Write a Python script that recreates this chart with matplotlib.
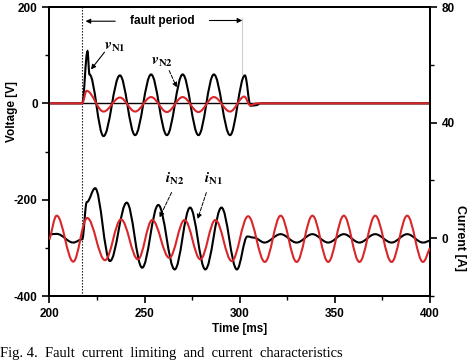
import numpy as np
import matplotlib
matplotlib.use("Agg")
import matplotlib.pyplot as plt
from matplotlib.path import Path
from matplotlib.patches import PathPatch
from matplotlib.ticker import MultipleLocator, FixedLocator

plt.rcParams['font.family'] = ['Liberation Sans', 'DejaVu Sans']
plt.rcParams['font.weight'] = 'bold'
plt.rcParams['mathtext.fontset'] = 'stix'
plt.rcParams['axes.unicode_minus'] = False

# --- data: extrema / key points of each trace ---
# voltage v_N1 (black, left axis) [ms], [V]
t_vN1 = [200, 217.2, 220.0, 221.0, 228.4, 237.0, 245.0, 253.4, 261.7, 270.0,
         278.3, 286.4, 294.9, 302.7, 305.7, 308.5, 311.0, 400]
v_vN1 = [0, 0, 108, 60, -68, 58, -66, 60, -66, 60,
         -66, 60, -66, 58, -5, -4, 0, 0]

# voltage v_N2 (red, left axis)
t_vN2 = [200, 217.2, 219.5, 228.4, 237.0, 245.0, 253.4, 261.7, 270.0, 278.3,
         286.4, 294.9, 302.4, 305.5, 309.0, 400]
v_vN2 = [0, 0, 26, -17, 12, -17, 13, -18, 13, -18,
         13, -17, 14, -4, 0, 0]

# current i_N1 (black, right axis) [ms], [A]
t_iN1 = [200, 203.8, 212.5, 217.2, 219.6, 224.0, 231.8, 240.6, 248.7, 257.2,
         265.8, 273.9, 281.9, 290.4, 298.5, 304.0, 307.5, 313.0, 321.5, 329.9,
         338.2, 346.5, 354.7, 362.9, 371.2, 379.8, 388.0, 396.3, 400]
i_iN1 = [1.3, 1.5, -1.5, -0.4, 12.5, 17.3, -7.9, 12.3, -10.2, 11.5,
         -10.8, 10.6, -10.8, 10.6, -10.8, 0.6, 0.2, -1.5, 1.4, -1.5,
         1.4, -1.5, 1.4, -1.5, 1.4, -1.5, 1.4, -1.5, -0.8]

# current i_N2 (red, right axis)
t_iN2 = [200, 203.8, 212.5, 219.8, 229.2, 237.6, 246.5, 254.0, 263.0, 271.0,
         279.3, 287.2, 295.8, 304.4, 313.2, 321.5, 329.9, 338.2, 346.5, 354.7,
         362.9, 371.2, 379.8, 388.0, 396.3, 400]
i_iN2 = [-0.5, 7.8, -8.1, 7.0, -7.6, 6.5, -7.3, 6.3, -6.8, 6.3,
         -7.3, 6.3, -7.9, 7.6, -8.2, 7.8, -8.2, 7.8, -8.2, 7.8,
         -8.2, 7.8, -8.2, 7.8, -8.2, -3.3]

t_fault = 217.2
RED = '#d8262a'


def smooth(ts, vs):
    # cubic bezier through the key points, flat tangents at each point
    verts = [(ts[0], vs[0])]
    codes = [Path.MOVETO]
    n = len(ts)
    for k in range(n - 1):
        a = 0.363 * (ts[k + 1] - ts[k])
        dv = vs[k + 1] - vs[k]
        c1 = (ts[k] + a, vs[k] + (0.363 * dv if k == 0 else 0))
        c2 = (ts[k + 1] - a, vs[k + 1] - (0.363 * dv if k == n - 2 else 0))
        verts += [c1, c2, (ts[k + 1], vs[k + 1])]
        codes += [Path.CURVE4] * 3
    return Path(verts, codes)


fig = plt.figure(figsize=(4.74, 3.61), dpi=100)
ax = fig.add_axes([0.1044, 0.180, 0.8028, 0.8006])
ax2 = ax.twinx()

ax.set_xlim(200, 400)
ax.set_ylim(-400, 200)
ax2.set_ylim(-20, 80)

ax.axhline(0, color='k', lw=1.0, zorder=1)
ax.add_patch(PathPatch(smooth(t_vN1, v_vN1), fill=False, ec='k', lw=1.5, zorder=2))
ax.add_patch(PathPatch(smooth(t_vN2, v_vN2), fill=False, ec=RED, lw=1.5, zorder=3))
ax2.add_patch(PathPatch(smooth(t_iN1, i_iN1), fill=False, ec='k', lw=1.5, zorder=2))
ax2.add_patch(PathPatch(smooth(t_iN2, i_iN2), fill=False, ec=RED, lw=1.5, zorder=3))

ax.axvline(t_fault, color='k', lw=0.8, ls=(0, (1.2, 1.5)), zorder=1)
ax.plot([301.2, 301.2], [60, 178], color='#d0d0d0', lw=0.8, zorder=0)

# fault period
ax.text(259.1, 170, 'fault period', ha='center', va='center', fontsize=8.5, fontweight='bold')
ax.annotate('', xy=(217.5, 170.5), xytext=(236, 170.5),
            arrowprops=dict(arrowstyle='-|>', color='k', lw=0.8, mutation_scale=7))
ax.annotate('', xy=(302.8, 172), xytext=(282.6, 172),
            arrowprops=dict(arrowstyle='-|>', color='k', lw=0.8, mutation_scale=7))

# trace labels
lab = dict(fontsize=11, ha='left', va='center')
ax.text(228.5, 118, r'$\mathbfit{v}_{\mathrm{N1}}$', **lab)
ax.annotate('', xy=(220.9, 65.7), xytext=(229.8, 110.7),
            arrowprops=dict(arrowstyle='-|>', color='k', lw=0.8, mutation_scale=7))
ax.text(253.2, 86, r'$\mathbfit{v}_{\mathrm{N2}}$', **lab)
ax.annotate('', xy=(267.5, 27.7), xytext=(262.3, 73.4),
            arrowprops=dict(arrowstyle='-|>', color='k', lw=0.7, ls='--', mutation_scale=7))
ax2.text(260.8, 20.5, r'$\mathbfit{i}_{\mathrm{N2}}$', **lab)
ax2.annotate('', xy=(257.2, 6.3), xytext=(264.8, 16.7),
             arrowprops=dict(arrowstyle='-|>', color='k', lw=0.7, ls='--', mutation_scale=7))
ax2.text(281.0, 20.5, r'$\mathbfit{i}_{\mathrm{N1}}$', **lab)
ax2.annotate('', xy=(277.4, 5.7), xytext=(282.9, 16.7),
             arrowprops=dict(arrowstyle='-|>', color='k', lw=0.7, ls='--', mutation_scale=7))

# ticks
ax.xaxis.set_major_locator(MultipleLocator(50))
ax.xaxis.set_minor_locator(MultipleLocator(25))
ax.yaxis.set_major_locator(MultipleLocator(200))
ax.yaxis.set_minor_locator(MultipleLocator(100))
ax2.yaxis.set_major_locator(FixedLocator([0, 40, 80]))
ax2.yaxis.set_minor_locator(FixedLocator([-20, 20, 60]))
for a in (ax, ax2):
    a.tick_params(which='major', direction='out', length=5, width=1.2, labelsize=8.5)
    a.tick_params(which='minor', direction='out', length=3, width=1.0)
    for s in a.spines.values():
        s.set_linewidth(1.4)

ax.set_xlabel('Time [ms]', fontsize=8.5, fontweight='bold', labelpad=2)
ax.set_ylabel('Voltage [V]', fontsize=8.5, fontweight='bold')
ax.yaxis.set_label_coords(-0.083, 0.637)
ax2.set_ylabel('Current [A]', fontsize=9, fontweight='bold', rotation=270, va='center')
ax2.yaxis.set_label_coords(1.079, 0.2)

fig.text(0.0, 1 - 346.5 / 361, 'Fig. 4.  Fault  current  limiting  and  current  characteristics',
         va='top', ha='left', fontsize=10.5, family='Liberation Serif', fontweight='normal')

fig.savefig('out.png', dpi=100)
